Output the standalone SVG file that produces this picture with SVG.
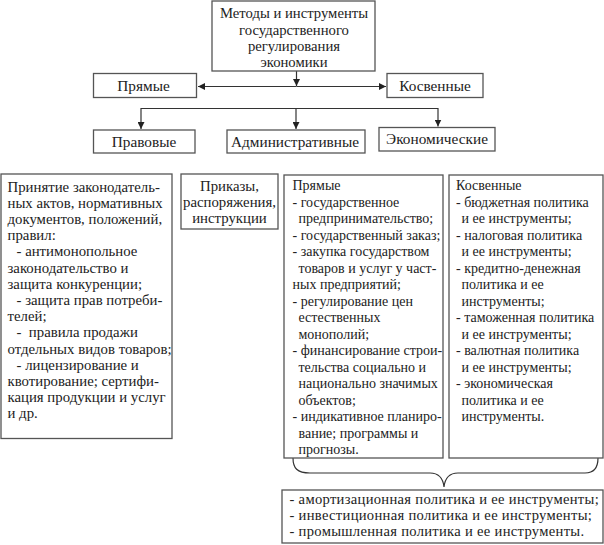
<svg xmlns="http://www.w3.org/2000/svg" width="604" height="545" viewBox="0 0 604 545">
<style>
.box{fill:#fff;stroke:#555;stroke-width:1.3}
.t{font-family:"Liberation Serif","Times New Roman",serif;fill:#222;font-size:14.8px}
.m{font-size:14px}
.b{font-size:14.6px;letter-spacing:0.3px}
.h{font-family:"Liberation Serif","Times New Roman",serif;fill:#222;font-size:15.3px}
.ti{font-size:14.7px}
.c{text-anchor:middle}
.ln{stroke:#333;stroke-width:1.2;fill:none}
</style>
<defs>
<marker id="ar" viewBox="0 0 10 10" refX="10" refY="5" markerWidth="7" markerHeight="7" markerUnits="userSpaceOnUse" orient="auto">
<path d="M0,0 L10,5 L0,10 z" fill="#222"/>
</marker>
</defs>
<rect width="604" height="545" fill="#fff"/>
<g id="connectors">
<line class="ln" x1="296.5" y1="71" x2="296.5" y2="86" marker-end="url(#ar)"/>
<line class="ln" x1="296.5" y1="86.5" x2="198" y2="86.5" marker-end="url(#ar)"/>
<line class="ln" x1="296.5" y1="86.5" x2="386" y2="86.5" marker-end="url(#ar)"/>
<line class="ln" x1="141" y1="108.5" x2="438" y2="108.5"/>
<line class="ln" x1="141" y1="108" x2="141" y2="129" marker-end="url(#ar)"/>
<line class="ln" x1="296" y1="108" x2="296" y2="129" marker-end="url(#ar)"/>
<line class="ln" x1="438" y1="108" x2="438" y2="126.5" marker-end="url(#ar)"/>
<path class="ln" d="M293,458 C293,468 297,473 310,473 L430,473 C438,473 443,478 444,487 C445,478 450,473 458,473 L585,473 C594,473 598,468 598,458"/>
</g>
<g id="root">
<rect class="box" x="212" y="1" width="163" height="70"/>
<text class="h ti c" x="294" y="18">Методы и инструменты</text>
<text class="h ti c" x="294" y="34.5">государственного</text>
<text class="h ti c" x="294" y="51">регулирования</text>
<text class="h ti c" x="294" y="67">экономики</text>
</g>
<g id="direct">
<rect class="box" x="93.5" y="73.5" width="103" height="24"/>
<text class="h c" x="143.5" y="91">Прямые</text>
</g>
<g id="indirect">
<rect class="box" x="387" y="73.5" width="96" height="24"/>
<text class="h c" x="435" y="91">Косвенные</text>
</g>
<g id="legal">
<rect class="box" x="93.5" y="130" width="101.5" height="23"/>
<text class="h c" x="144" y="147">Правовые</text>
</g>
<g id="admin">
<rect class="box" x="227" y="130" width="138" height="23"/>
<text class="h c" x="295" y="147">Административные</text>
</g>
<g id="econ">
<rect class="box" x="379" y="127.5" width="116" height="23.5"/>
<text class="h c" x="437" y="144">Экономические</text>
</g>
<g id="legal-list">
<rect class="box" x="1" y="174" width="171" height="264.5"/>
<text class="t" x="7.5" y="191.5">Принятие законодатель-</text>
<text class="t" x="7.5" y="207.7">ных актов, нормативных</text>
<text class="t" x="7.5" y="223.9">документов, положений,</text>
<text class="t" x="7.5" y="240.1">правил:</text>
<text class="t" x="16.5" y="256.3">- антимонопольное</text>
<text class="t" x="7.5" y="272.5">законодательство и</text>
<text class="t" x="7.5" y="288.7">защита конкуренции;</text>
<text class="t" x="16.5" y="304.9">- защита прав потреби-</text>
<text class="t" x="7.5" y="321.1">телей;</text>
<text class="t" x="16.5" y="337.3" xml:space="preserve">-  правила продажи</text>
<text class="t" x="7.5" y="353.5">отдельных видов товаров;</text>
<text class="t" x="16.5" y="369.7">- лицензирование и</text>
<text class="t" x="7.5" y="385.9">квотирование; сертифи-</text>
<text class="t" x="7.5" y="402.1">кация продукции и услуг</text>
<text class="t" x="7.5" y="418.3">и др.</text>
</g>
<g id="admin-list">
<rect class="box" x="181" y="174" width="97" height="55"/>
<text class="t c" x="229.5" y="191" font-size="14.5">Приказы,</text>
<text class="t c" x="229.5" y="207" font-size="14.5">распоряжения,</text>
<text class="t c" x="229.5" y="223" font-size="14.5">инструкции</text>
</g>
<g id="direct-list">
<rect class="box" x="284" y="175" width="159" height="283"/>
<text class="t m" x="292.5" y="190">Прямые</text>
<text class="t m" x="292.5" y="206.5">- государственное</text>
<text class="t m" x="298.5" y="223">предпринимательство;</text>
<text class="t m" x="292.5" y="239.5">- государственный заказ;</text>
<text class="t m" x="292.5" y="256">- закупка государством</text>
<text class="t m" x="298.5" y="272.5">товаров и услуг у част-</text>
<text class="t m" x="292.5" y="289">ных предприятий;</text>
<text class="t m" x="292.5" y="305.5">- регулирование цен</text>
<text class="t m" x="298.5" y="322">естественных</text>
<text class="t m" x="298.5" y="338.5">монополий;</text>
<text class="t m" x="292.5" y="355">- финансирование строи-</text>
<text class="t m" x="298.5" y="371.5">тельства социально и</text>
<text class="t m" x="298.5" y="388">национально значимых</text>
<text class="t m" x="298.5" y="404.5">объектов;</text>
<text class="t m" x="292.5" y="421">- индикативное планиро-</text>
<text class="t m" x="298.5" y="437.5">вание; программы и</text>
<text class="t m" x="298.5" y="454">прогнозы.</text>
</g>
<g id="indirect-list">
<rect class="box" x="449" y="175" width="154" height="283"/>
<text class="t m" x="456" y="190">Косвенные</text>
<text class="t m" x="456" y="206.5">- бюджетная политика</text>
<text class="t m" x="461.5" y="223">и ее инструменты;</text>
<text class="t m" x="456" y="239.5">- налоговая политика</text>
<text class="t m" x="461.5" y="256">и ее инструменты;</text>
<text class="t m" x="456" y="272.5">- кредитно-денежная</text>
<text class="t m" x="461.5" y="289">политика и ее</text>
<text class="t m" x="461.5" y="305.5">инструменты;</text>
<text class="t m" x="456" y="322">- таможенная политика</text>
<text class="t m" x="461.5" y="338.5">и ее инструменты;</text>
<text class="t m" x="456" y="355">- валютная политика</text>
<text class="t m" x="461.5" y="371.5">и ее инструменты;</text>
<text class="t m" x="456" y="388">- экономическая</text>
<text class="t m" x="461.5" y="404.5">политика и ее</text>
<text class="t m" x="461.5" y="421">инструменты.</text>
</g>
<g id="common-list">
<rect class="box" x="282" y="490" width="321" height="53"/>
<text class="t b" x="289.5" y="503.5">- амортизационная политика и ее инструменты;</text>
<text class="t b" x="289.5" y="519.8">- инвестиционная политика и ее инструменты;</text>
<text class="t b" x="289.5" y="536">- промышленная политика и ее инструменты.</text>
</g>
</svg>
